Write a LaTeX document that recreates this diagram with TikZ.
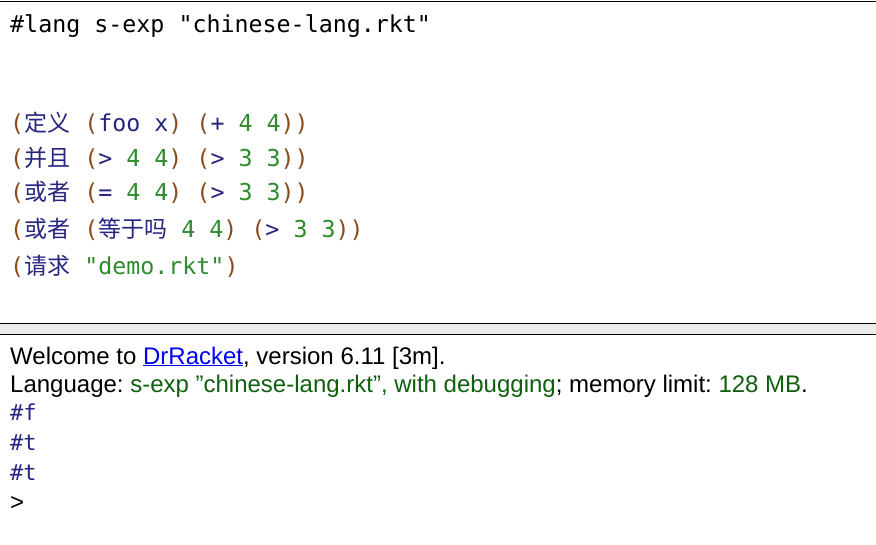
\documentclass[tikz,border=0pt]{standalone}
\usepackage{fontspec}
\setmainfont[Ligatures=NoCommon]{Liberation Sans}
\setmonofont{DejaVu Sans Mono}
\newfontfamily\cjk{Noto Sans CJK SC}
\frenchspacing
\definecolor{par}{HTML}{8B4A1C}
\definecolor{sym}{HTML}{262680}
\definecolor{num}{HTML}{2E8B2E}
\definecolor{msg}{HTML}{106010}
\definecolor{lnk}{HTML}{0000EE}
\newcommand{\Pa}[1]{\textcolor{par}{#1}}
\newcommand{\Sy}[1]{\textcolor{sym}{#1}}
\newcommand{\Nu}[1]{\textcolor{num}{#1}}
\newcommand{\Cj}[1]{\textcolor{sym}{{\cjk\fontsize{23}{23}\selectfont #1}}}
\newcommand{\qq}{\symbol{34}}
\begin{document}
\begin{tikzpicture}[x=1pt,y=-1pt,
  code/.style={anchor=base west,inner sep=0pt,font=\ttfamily\fontsize{23.3}{23}\selectfont},
  repl/.style={anchor=base west,inner sep=0pt,font=\fontsize{24}{24}\selectfont},
  mrepl/.style={anchor=base west,inner sep=0pt,font=\ttfamily\fontsize{22}{22}\selectfont,text=sym}]
\useasboundingbox (0,0) rectangle (876,544);
\fill[white] (0,0) rectangle (876,544);
\draw[line width=1pt] (0,1) -- (876,1);
\fill[gray!15] (0,323) rectangle (876,334);
\draw[line width=1pt] (0,323) -- (876,323) (0,334) -- (876,334);
\node[code] (l0) at (10,32) {\#lang s-exp "chinese-lang.rkt"};
\node[code] (l1) at (10,131) {\Pa{(}\Cj{定义} \Pa{(}\Sy{foo x}\Pa{)} \Pa{(}\Sy{+} \Nu{4} \Nu{4}\Pa{))}};
\node[code] (l2) at (10,166) {\Pa{(}\Cj{并且} \Pa{(}\Sy{>} \Nu{4} \Nu{4}\Pa{)} \Pa{(}\Sy{>} \Nu{3} \Nu{3}\Pa{))}};
\node[code] (l3) at (10,200) {\Pa{(}\Cj{或者} \Pa{(}\Sy{=} \Nu{4} \Nu{4}\Pa{)} \Pa{(}\Sy{>} \Nu{3} \Nu{3}\Pa{))}};
\node[code] (l4) at (10,237) {\Pa{(}\Cj{或者} \Pa{(}\Cj{等于吗} \Nu{4} \Nu{4}\Pa{)} \Pa{(}\Sy{>} \Nu{3} \Nu{3}\Pa{))}};
\node[code] (l5) at (10,274) {\Pa{(}\Cj{请求} \Nu{"demo.rkt"}\Pa{)}};
\node[repl] (r1) at (10,364) {Welcome to \textcolor{lnk}{\underline{DrRacket}}, version 6.11 [3m].};
\node[repl] (r2) at (10,392) {Language: \textcolor{msg}{s-exp \qq chinese-lang.rkt\qq, with debugging}; memory limit: \textcolor{msg}{128 MB}.};
\node[mrepl] (r3) at (10,420) {\#f};
\node[mrepl] (r4) at (10,450) {\#t};
\node[mrepl] (r5) at (10,480) {\#t};
\node[repl] (r6) at (10,510) {>};
\end{tikzpicture}
\end{document}
